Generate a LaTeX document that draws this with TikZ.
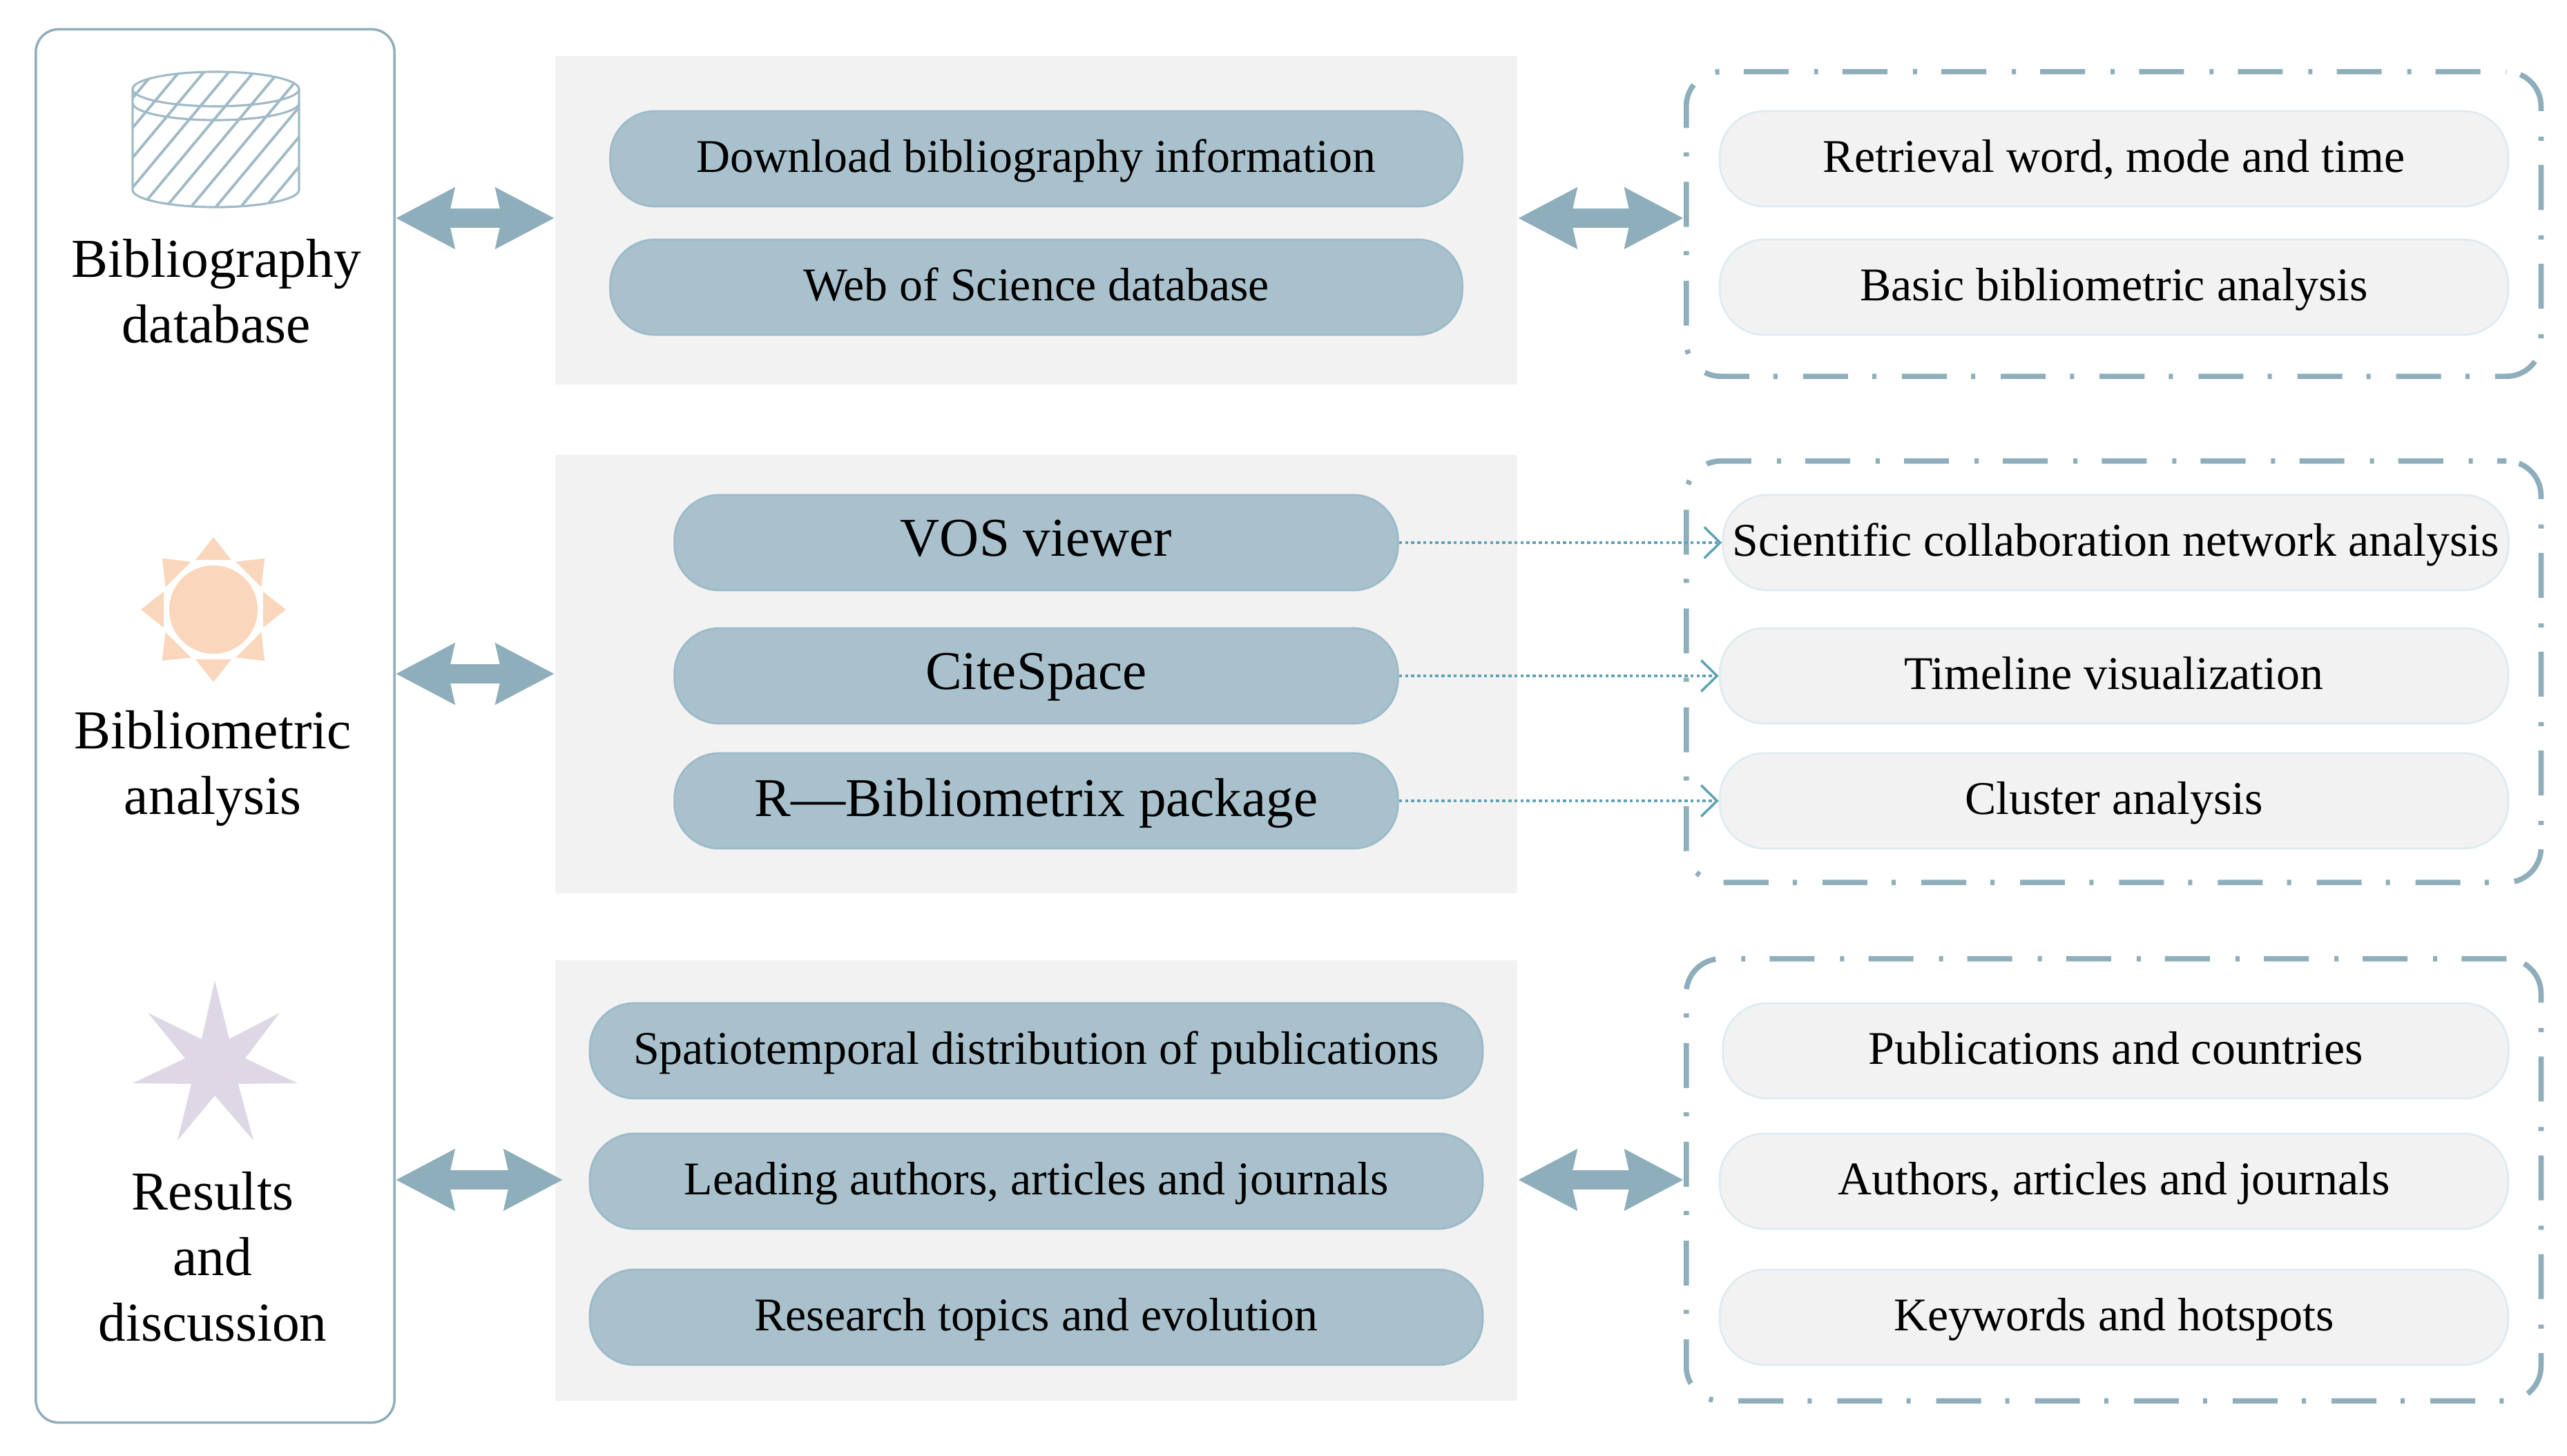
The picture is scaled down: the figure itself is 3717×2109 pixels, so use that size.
\documentclass[tikz,border=0pt]{standalone}
\usepackage{fontspec}
\setmainfont{Liberation Serif}
\usetikzlibrary{arrows.meta}
\definecolor{linecol}{HTML}{8FAEBC}
\definecolor{pillcol}{HTML}{A9C1CC}
\definecolor{pillline}{HTML}{9CBAC8}
\definecolor{panelcol}{HTML}{F2F2F2}
\definecolor{softline}{HTML}{DFEBF0}
\definecolor{suncol}{HTML}{FAD7BC}
\definecolor{starcol}{HTML}{DED8E6}
\definecolor{dotcol}{HTML}{5FA3B5}
\begin{document}
\begin{tikzpicture}
  [x=.01cm,y=-.01cm,
   sidebox/.style={draw=linecol,line width=1pt,rounded corners=.33cm,minimum width=5.19cm,minimum height=20.17cm},
   panel/.style={fill=panelcol,minimum width=13.93cm},
   dashbox/.style={draw=linecol,line width=2.2pt,rounded corners=.5cm,minimum width=12.37cm,
     dash pattern=on 18.5pt off 10pt on 1.7pt off 10.5pt},
   sidetext/.style={align=center,font=\fontsize{22.6}{27}\selectfont},
   pill/.style={draw=pillline,line width=.8pt,fill=pillcol,rounded corners=.65cm,minimum height=1.38cm,
     text height=15.5pt,text depth=4.5pt,font=\fontsize{19.3}{22}\selectfont},
   bigpill/.style={pill,minimum width=10.47cm,text height=16pt,text depth=5pt,font=\fontsize{22.5}{26}\selectfont},
   softpill/.style={pill,draw=softline,fill=panelcol,minimum width=11.41cm},
   both/.style={draw=linecol,line width=.28cm,{Stealth[length=.84cm,width=.85cm,inset=.08cm]}-{Stealth[length=.84cm,width=.85cm,inset=.08cm]}},
   dotlink/.style={draw=dotcol,line width=1pt,dash pattern=on 1.3pt off 1.2pt,-{Straight Barb[length=.23cm,width=.45cm,line width=1pt]}}]

  \useasboundingbox (0,0) rectangle (3717,2109);

  \node[sidebox] (s) at (311.5,1051.5) {};

  \node[panel,minimum height=4.76cm] (g1) at (1500.5,319) {};
  \node[panel,minimum height=6.35cm] (g2) at (1500.5,976.5) {};
  \node[panel,minimum height=6.38cm] (g3) at (1500.5,1710) {};

  \node[dashbox,dash phase=30pt,minimum height=4.41cm] (d1) at (3060.5,324.5) {};
  \node[dashbox,dash phase=14.65pt,minimum height=6.10cm] (d2) at (3060.5,973) {};
  \node[dashbox,minimum height=6.40cm] (d3) at (3060.5,1709) {};

  % database
  \begin{scope}
    \clip (192,129) arc[start angle=180,end angle=360,x radius=120.5,y radius=25] -- (433,275)
      arc[start angle=0,end angle=180,x radius=120.5,y radius=25] -- cycle;
    \foreach \k in {-4,...,13}
      \draw[linecol!85,line width=1.1pt] (160+\k*36,310) -- (160+\k*36+175,100);
  \end{scope}
  \draw[linecol!85,line width=.9pt] (192,129) arc[start angle=180,end angle=-180,x radius=120.5,y radius=25];
  \draw[linecol!85,line width=.9pt] (192,129) -- (192,275) arc[start angle=180,end angle=0,x radius=120.5,y radius=25] -- (433,129);
  \draw[linecol!85,line width=.9pt] (192,149) arc[start angle=180,end angle=0,x radius=120.5,y radius=25];

  % sun
  \fill[suncol] (309,883) circle (64);
  \foreach \a in {0,45,...,315}
    \fill[suncol,rotate around={\a:(309,883)}] (309,778) -- (335,811) -- (283,811) -- cycle;

  % star
  \fill[starcol] (311,1420) -- (332,1505) -- (405,1467) -- (355,1533) -- (431,1569) -- (345,1570)
    -- (367,1652) -- (311,1587) -- (257,1652) -- (277,1570) -- (192,1569) -- (268,1533) -- (214,1467)
    -- (292,1505) -- cycle;

  \node[sidetext] (t1) at (313,422) {Bibliography\\database};
  \node[sidetext] (t2) at (308,1113) {Bibliometric\\analysis};
  \node[sidetext] (t3) at (308,1820) {Results\\and\\discussion};

  \node[pill,minimum width=12.33cm] (a1) at (1500.5,230) {Download bibliography information};
  \node[pill,minimum width=12.33cm] (a2) at (1500.5,416) {Web of Science database};

  \node[bigpill] (b1) at (1500.5,786) {VOS viewer};
  \node[bigpill] (b2) at (1500.5,979) {CiteSpace};
  \node[bigpill,text depth=3pt] (b3) at (1500.5,1160) {R—Bibliometrix package};

  \node[pill,minimum width=12.92cm] (c1) at (1500.5,1522) {Spatiotemporal distribution of publications};
  \node[pill,minimum width=12.92cm] (c2) at (1500.5,1711) {Leading authors, articles and journals};
  \node[pill,minimum width=12.92cm] (c3) at (1500.5,1908) {Research topics and evolution};

  \node[softpill] (r1) at (3061,230) {Retrieval word, mode and time};
  \node[softpill] (r2) at (3061,416) {Basic bibliometric analysis};
  \node[softpill,minimum width=11.37cm] (r3) at (3063.5,786) {Scientific collaboration network analysis};
  \node[softpill] (r4) at (3061,979) {Timeline visualization};
  \node[softpill] (r5) at (3061,1160) {Cluster analysis};
  \node[softpill,minimum width=11.37cm] (r6) at (3063.5,1522) {Publications and countries};
  \node[softpill] (r7) at (3061,1711) {Authors, articles and journals};
  \node[softpill] (r8) at (3061,1908) {Keywords and hotspots};

  \draw[both] (s.east |- 0,316) -- (g1.west |- 0,316);
  \draw[both] (s.east |- 0,976) -- (g2.west |- 0,976);
  \draw[both] (s.east |- 0,1709) -- (815,1709);
  \draw[both] (g1.east |- 0,316) -- (d1.west |- 0,316);
  \draw[both] (g3.east |- 0,1709) -- (d3.west |- 0,1709);

  \draw[dotlink] (b1) -- (r3);
  \draw[dotlink] (b2) -- (r4);
  \draw[dotlink] (b3) -- (r5);
\end{tikzpicture}
\end{document}
